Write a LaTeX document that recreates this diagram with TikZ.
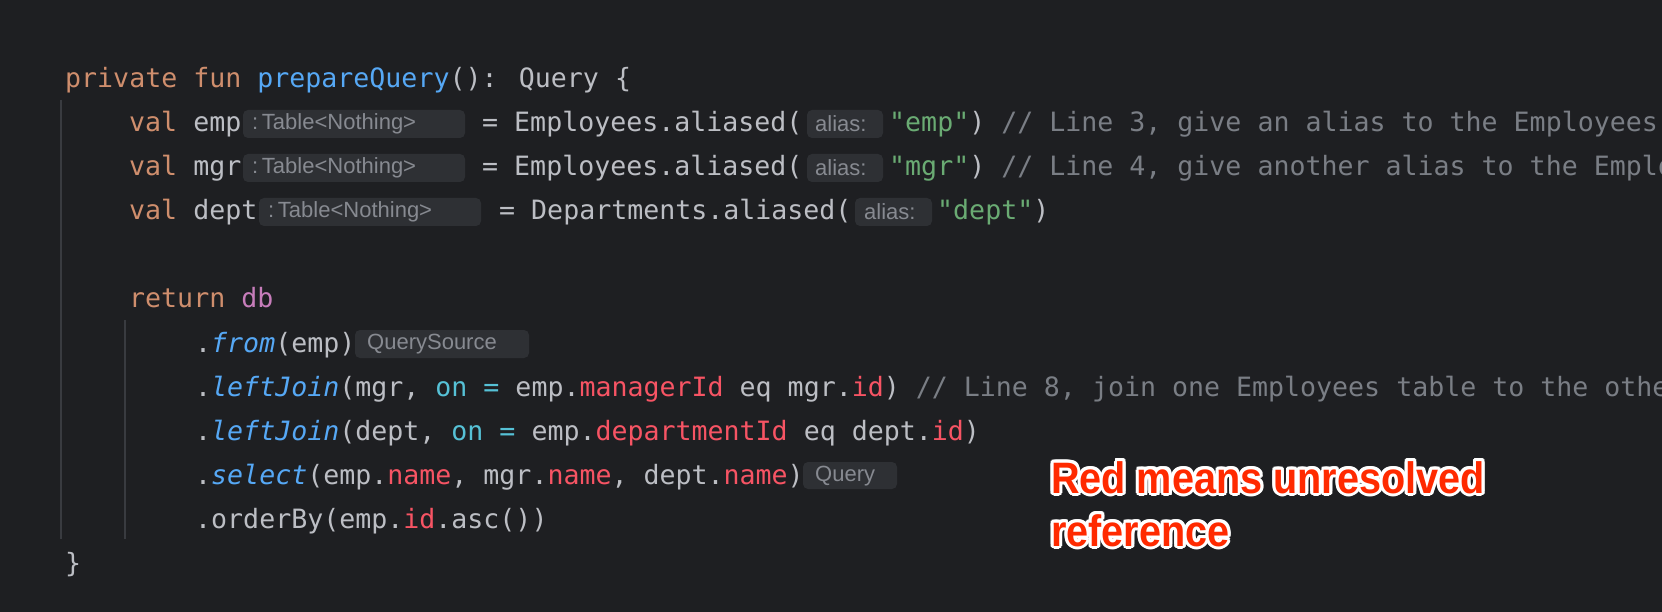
\documentclass[tikz,border=0pt]{standalone}
\usepackage{fontspec}
\usetikzlibrary{calc}
\newfontfamily\code{DejaVu Sans Mono}
\newfontfamily\hint{Liberation Sans}
\newfontfamily\note[FakeStretch=0.9]{Liberation Sans}
\definecolor{bg}{HTML}{1E1F22}
\definecolor{tx}{HTML}{BCBEC4}
\definecolor{kw}{HTML}{CF8E6D}
\definecolor{fn}{HTML}{56A8F5}
\definecolor{st}{HTML}{6AAB73}
\definecolor{cm}{HTML}{7A7E85}
\definecolor{na}{HTML}{56C1D6}
\definecolor{ur}{HTML}{F75464}
\definecolor{pr}{HTML}{C77DBB}
\definecolor{hb}{HTML}{2E3034}
\definecolor{ht}{HTML}{878A91}
\definecolor{gd}{HTML}{393B40}
\definecolor{nr}{HTML}{FF2A00}
\newcommand{\cK}[1]{\textcolor{kw}{#1}}
\newcommand{\cF}[1]{\textcolor{fn}{#1}}
\newcommand{\cFI}[1]{\textcolor{fn}{\itshape #1}}
\newcommand{\cS}[1]{\textcolor{st}{#1}}
\newcommand{\cC}[1]{\textcolor{cm}{#1}}
\newcommand{\cN}[1]{\textcolor{na}{#1}}
\newcommand{\cU}[1]{\textcolor{ur}{#1}}
\newcommand{\cP}[1]{\textcolor{pr}{#1}}
\begin{document}
\begin{tikzpicture}[x=1pt,y=-1pt,
  codetext/.style={anchor=base west,inner sep=0pt,text=tx,font=\code\fontsize{26.6}{30}\selectfont},
  hintbox/.style={fill=hb,rounded corners=5pt},
  hinttext/.style={anchor=west,inner sep=0pt,text=ht,font=\hint\fontsize{22}{26}\selectfont},
  guide/.style={draw=gd,line width=1.5pt},
  notetext/.style={anchor=base west,inner sep=0pt,align=left,font=\note\bfseries\fontsize{44}{53}\selectfont}]
\fill[bg] (0,0) rectangle (1662,612);
\useasboundingbox (0,0) rectangle (1662,612);
\clip (0,0) rectangle (1662,612);
% guides
\draw[guide] (61,100) -- (61,539);
\draw[guide] (125,320) -- (125,539);
% line 0
\node[codetext] (l0) at (65,-4) {\}};
% line 1
\node[codetext] (l1) at (65,88) {\cK{private fun} \cF{prepareQuery}(): Query \{};
% line 2
\node[codetext] (l2a) at (129,132) {\cK{val} emp};
\fill[hintbox] (243,110) rectangle (465,138);
\node[hinttext] (h2a) at (252,124) {:\,Table<Nothing>};
\node[codetext] (l2b) at (482,132) {= Employees.aliased(};
\fill[hintbox] (807,110) rectangle (883,138);
\node[hinttext] (h2b) at (815,124) {alias:};
\node[codetext] (l2c) at (889,132) {\cS{"emp"}) \cC{// Line 3, give an alias to the Employees table}};
% line 3
\node[codetext] (l3a) at (129,176) {\cK{val} mgr};
\fill[hintbox] (243,154) rectangle (465,182);
\node[hinttext] (h3a) at (252,168) {:\,Table<Nothing>};
\node[codetext] (l3b) at (482,176) {= Employees.aliased(};
\fill[hintbox] (807,154) rectangle (883,182);
\node[hinttext] (h3b) at (815,168) {alias:};
\node[codetext] (l3c) at (889,176) {\cS{"mgr"}) \cC{// Line 4, give another alias to the Employees table}};
% line 4
\node[codetext] (l4a) at (129,220) {\cK{val} dept};
\fill[hintbox] (259,198) rectangle (481,226);
\node[hinttext] (h4a) at (268,212) {:\,Table<Nothing>};
\node[codetext] (l4b) at (499,220) {= Departments.aliased(};
\fill[hintbox] (855,198) rectangle (932,226);
\node[hinttext] (h4b) at (864,212) {alias:};
\node[codetext] (l4c) at (937,220) {\cS{"dept"})};
% line 6
\node[codetext] (l6) at (129,308) {\cK{return} \cP{db}};
% line 7
\node[codetext] (l7) at (195,352) {.\cFI{from}(emp)};
\fill[hintbox] (355,330) rectangle (529,358);
\node[hinttext] (h7) at (367,344) {QuerySource};
% line 8
\node[codetext] (l8) at (195,396) {.\cFI{leftJoin}(mgr, \cN{on} \cN{=} emp.\cU{managerId} eq mgr.\cU{id}) \cC{// Line 8, join one Employees table to the other}};
% line 9
\node[codetext] (l9) at (195,440) {.\cFI{leftJoin}(dept, \cN{on} \cN{=} emp.\cU{departmentId} eq dept.\cU{id})};
% line 10
\node[codetext] (l10) at (195,484) {.\cFI{select}(emp.\cU{name}, mgr.\cU{name}, dept.\cU{name})};
\fill[hintbox] (803,462) rectangle (897,489);
\node[hinttext] (h10) at (815,476) {Query};
% line 11
\node[codetext] (l11) at (195,528) {.orderBy(emp.\cU{id}.asc())};
% line 12
\node[codetext] (l12) at (65,572) {\}};
% annotation
\foreach \a in {0,22.5,...,359}{
  \node[notetext,text=white] at ($(1051,546)+(\a:3)$) {Red means unresolved\\reference};
}
\node[notetext,text=nr] (note) at (1051,546) {Red means unresolved\\reference};
\end{tikzpicture}
\end{document}
